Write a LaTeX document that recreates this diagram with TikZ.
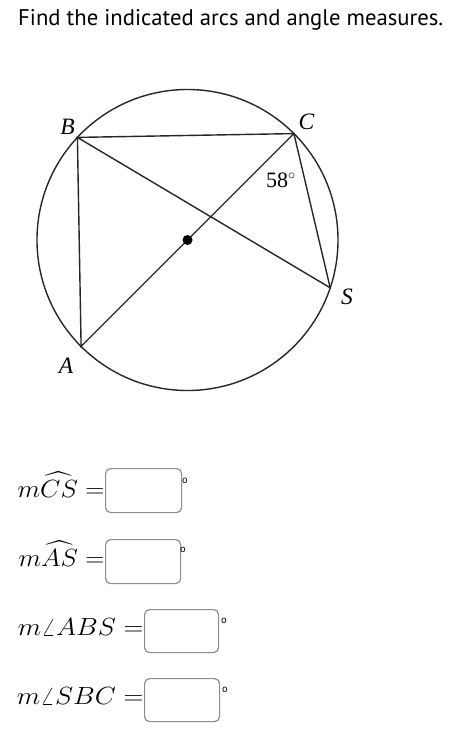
\documentclass[tikz,border=0pt]{standalone}
\usepackage{amsmath}
\usepackage{fontspec}
\newfontfamily\titlefont{PT Sans}
\newfontfamily\lblfont{Liberation Serif}
\begin{document}
\begin{tikzpicture}[x=1pt,y=-1pt,
  ln/.style={line width=1.4pt,draw=black!85},
  lbl/.style={font=\lblfont\itshape\fontsize{23.5}{27}\selectfont,inner sep=0pt},
  ansbox/.style={draw=black!45,line width=1.2pt,rounded corners=5pt,inner sep=0pt,anchor=north west},
  deg/.style={font=\titlefont\fontsize{10.5}{12}\selectfont,inner sep=0pt},
  eq/.style={font=\fontsize{24}{28}\selectfont,inner sep=0pt,anchor=base east}]
\useasboundingbox (0,0) rectangle (459,734);
\node[anchor=base west,inner sep=0pt] (title) at (18,25.7)
  {\resizebox{425pt}{!}{\titlefont Find the indicated arcs and angle measures.}};
% circle figure
\coordinate (O) at (187.5,240);
\coordinate (B) at (77.4,137.4);
\coordinate (C) at (293.9,133.6);
\coordinate (A) at (81.1,346.4);
\coordinate (S) at (330.2,287.8);
\draw[ln] (O) circle[radius=150.5pt];
\draw[ln] (B) -- (C) -- (S) -- (B) -- (A) -- (C);
\fill[black] (O) circle[radius=5pt];
\node[lbl] (lB) at (67.5,127) {B};
\node[lbl] (lC) at (306.5,121.5) {C};
\node[lbl] (lS) at (347,297) {S};
\node[lbl] (lA) at (66,365.5) {A};
\node[font=\lblfont\fontsize{22}{26}\selectfont,inner sep=0pt] (ang) at (281,180) {58$^{\circ}$};
% equations
\node[eq] (e1) at (104.5,497) {\scalebox{1.06}[1]{$m\widehat{CS} =$}};
\node[eq] (e2) at (104.5,566) {\scalebox{1.06}[1]{$m\widehat{AS} =$}};
\node[eq] (e3) at (143.5,635) {\scalebox{1.1}[1]{$m\angle ABS =$}};
\node[eq] (e4) at (143.5,704) {\scalebox{1.1}[1]{$m\angle SBC =$}};
\node[ansbox,minimum width=76pt,minimum height=44pt] (b1) at (105,468) {};
\node[ansbox,minimum width=75pt,minimum height=44pt] (b2) at (105,539) {};
\node[ansbox,minimum width=74pt,minimum height=43pt] (b3) at (144,609) {};
\node[ansbox,minimum width=75pt,minimum height=43pt] (b4) at (144,678) {};
\node[deg] (d1) at (185,481) {o};
\node[deg] (d2) at (183,549.5) {o};
\node[deg] (d3) at (224,621) {o};
\node[deg] (d4) at (225,689.5) {o};
\end{tikzpicture}
\end{document}
